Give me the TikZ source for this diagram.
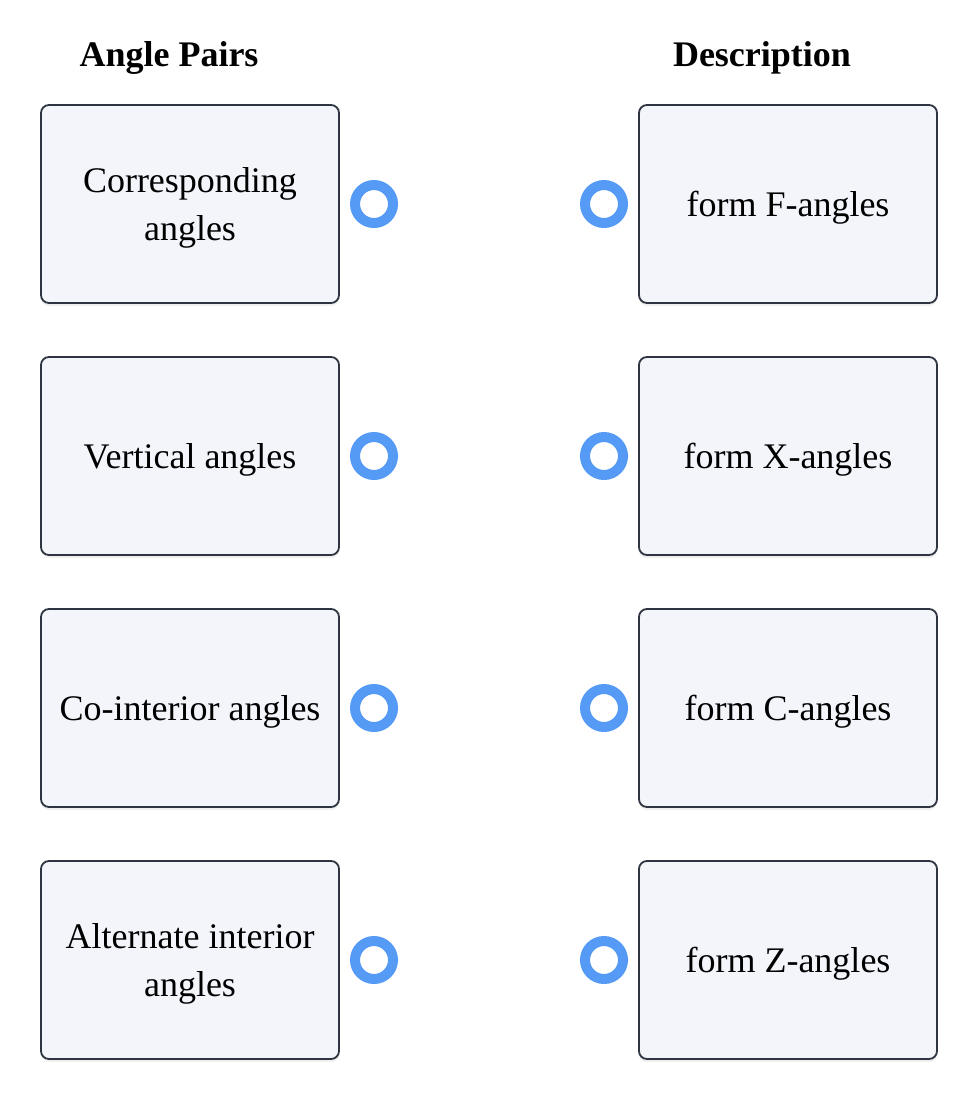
\documentclass[tikz,border=0pt]{standalone}
\usepackage{fontspec}
\setmainfont{Liberation Serif}
\usetikzlibrary{shadows}
\definecolor{boxFill}{HTML}{F3F5FB}
\definecolor{boxLine}{HTML}{2E3440}
\definecolor{dotBlue}{HTML}{559AF5}
\newcommand{\boxtext}[1]{\raisebox{-3pt}[\height][\depth]{\begin{tabular}{@{}c@{}}#1\end{tabular}}}

\begin{document}
\begin{tikzpicture}
[x=1pt,y=-1pt,
  boxDecorate/.style={shape=rectangle,draw=boxLine,fill=boxFill,line width=1.8pt,
    rounded corners=8pt,minimum width=298pt,minimum height=198pt,inner sep=0pt,
    drop shadow={opacity=0.12,shadow xshift=0pt,shadow yshift=-3pt}},%
  dotDecorate/.style={shape=circle,draw=dotBlue,fill=white,line width=10pt,
    minimum size=38pt,inner sep=0pt},%
  headDecorate/.style={anchor=base,font=\bfseries}]
\fontsize{36}{48}\selectfont
\useasboundingbox (0,0) rectangle (980,1106);
%% headers
\node (headPairs) at (169,66) [headDecorate] {Angle Pairs};
\node (headDesc) at (762,66) [headDecorate] {Description};
%% boxes and dots
\foreach \n/\y/\pairtext/\desctext in {
  1/204/{Corresponding\\angles}/{form F-angles},
  2/456/{Vertical angles}/{form X-angles},
  3/708/{Co-interior angles}/{form C-angles},
  4/960/{Alternate interior\\angles}/{form Z-angles}}
{
  \node (pair\n) at (190,\y) [boxDecorate] {\boxtext{\pairtext}};
  \node (desc\n) at (788,\y) [boxDecorate] {\boxtext{\desctext}};
  \node (dotp\n) at (374,\y) [dotDecorate] {};
  \node (dotd\n) at (604,\y) [dotDecorate] {};
}
\end{tikzpicture}
\end{document}
